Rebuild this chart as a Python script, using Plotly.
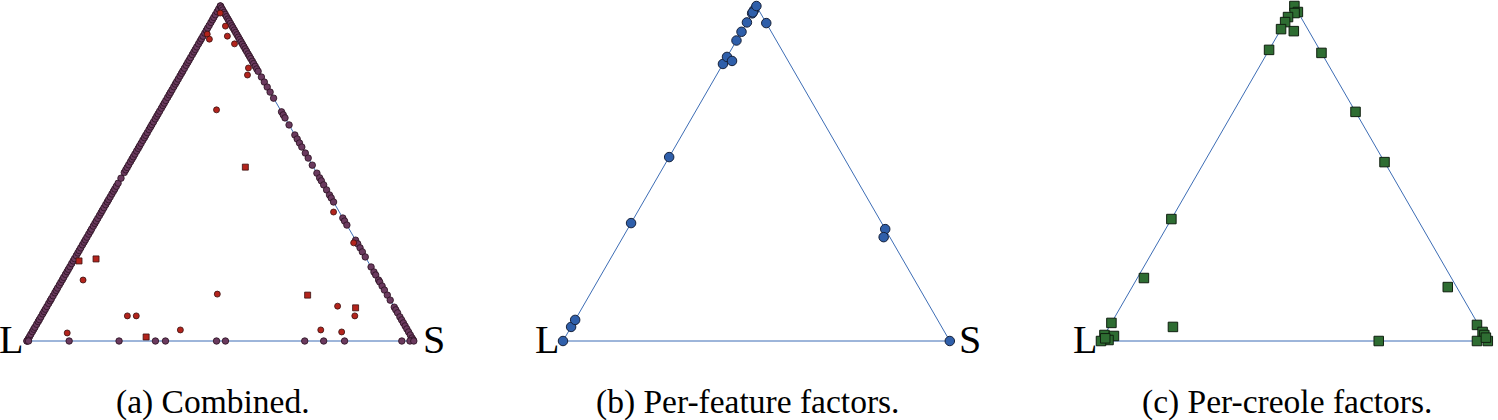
import plotly.graph_objects as go

# (a) Combined: points lying on the triangle edges, given as one share along the edge
combined_left_edge_top = [
    0.0, 0.006, 0.013, 0.02, 0.028, 0.035, 0.041, 0.05, 0.058, 0.064, 0.072, 0.081, 0.088,
    0.095, 0.103, 0.112, 0.12, 0.126, 0.135, 0.144, 0.151, 0.158, 0.167, 0.175, 0.183, 0.19,
    0.199, 0.207, 0.214, 0.222, 0.231, 0.239, 0.246, 0.255, 0.263, 0.27, 0.278, 0.287, 0.295,
    0.302, 0.31, 0.319, 0.327, 0.334, 0.343, 0.351, 0.358, 0.366, 0.375, 0.383, 0.39, 0.398,
    0.407, 0.415, 0.422, 0.43, 0.439, 0.447, 0.454, 0.462, 0.471, 0.486, 0.503,
    0.511, 0.518, 0.526, 0.535, 0.543, 0.55, 0.558, 0.567, 0.575, 0.582, 0.59, 0.599, 0.607,
    0.614, 0.622, 0.631, 0.639, 0.646, 0.654, 0.663, 0.671, 0.678, 0.686, 0.695, 0.703, 0.71,
    0.718, 0.727, 0.735, 0.742, 0.75, 0.759, 0.767, 0.774, 0.782, 0.791, 0.799, 0.806, 0.814,
    0.823, 0.831, 0.838, 0.846, 0.855, 0.863, 0.87, 0.878, 0.887, 0.895, 0.902, 0.91, 0.919,
    0.927, 0.934, 0.942, 0.951, 0.959, 0.966, 0.974, 0.983, 0.991, 1.0,
]
combined_right_edge_top = [
    1.0, 0.994, 0.988, 0.981, 0.975, 0.968, 0.961, 0.955, 0.948, 0.941, 0.935, 0.928, 0.921,
    0.914, 0.907, 0.9, 0.893, 0.886, 0.879, 0.872, 0.865, 0.857, 0.85, 0.843, 0.835, 0.828,
    0.82, 0.812, 0.805, 0.788, 0.773, 0.758, 0.743, 0.725, 0.684, 0.675, 0.666, 0.645, 0.615,
    0.603, 0.591, 0.579, 0.561, 0.546, 0.525, 0.501, 0.487, 0.478, 0.466, 0.451, 0.436, 0.427,
    0.415, 0.367, 0.358, 0.346, 0.301, 0.29, 0.278, 0.266, 0.251, 0.221, 0.206, 0.197, 0.182,
    0.176, 0.164, 0.152, 0.137, 0.122, 0.101, 0.093, 0.084, 0.072, 0.063, 0.054, 0.045, 0.036,
    0.027, 0.018, 0.009, 0.003,
]
combined_bottom_edge_s = [
    0.0, 0.004, 0.109, 0.238, 0.332, 0.358, 0.49, 0.513, 0.718, 0.767, 0.821, 0.969, 0.99, 1.0,
]

# (a) Combined: points off the edges (shares of top, L, S)
combined_dots_top = [0.979, 0.94, 0.916, 0.901, 0.91, 0.887, 0.815, 0.794, 0.69, 0.385, 0.293,
                     0.182, 0.14, 0.104, 0.075, 0.075, 0.075, 0.024, 0.033, 0.033, 0.027]
combined_dots_l = [0.011, 0.017, 0.076, 0.078, 0.027, 0.02, 0.02, 0.033, 0.165, 0.015, 0.009,
                   0.764, 0.438, 0.145, 0.115, 0.703, 0.68, 0.884, 0.587, 0.224, 0.173]
combined_dots_s = [0.01, 0.043, 0.008, 0.021, 0.063, 0.093, 0.165, 0.173, 0.145, 0.6, 0.698,
                   0.054, 0.422, 0.751, 0.81, 0.222, 0.245, 0.092, 0.38, 0.743, 0.8]
combined_squares_top = [0.519, 0.239, 0.245, 0.137, 0.099, 0.012]
combined_squares_l = [0.176, 0.746, 0.699, 0.206, 0.101, 0.686]
combined_squares_s = [0.305, 0.015, 0.056, 0.657, 0.8, 0.302]

# (b) Per-feature factors
feature_top = [0.0, 0.0, 0.042, 0.063, 0.352, 0.549, 0.827, 0.848, 0.836, 0.897, 0.923,
               0.951, 0.978, 0.988, 0.981, 1.0, 0.949, 0.334, 0.31]
feature_l = [1.0, 0.0, 0.958, 0.937, 0.648, 0.451, 0.173, 0.152, 0.145, 0.103, 0.077,
             0.049, 0.022, 0.012, 0.019, 0.0, 0.0, 0.0, 0.016]
feature_s = [0.0, 1.0, 0.0, 0.0, 0.0, 0.0, 0.0, 0.0, 0.019, 0.0, 0.0,
             0.0, 0.0, 0.0, 0.0, 0.0, 0.051, 0.666, 0.674]

# (c) Per-creole factors
creole_top = [1.0, 0.982, 0.979, 0.967, 0.952, 0.931, 0.925, 0.869, 0.86, 0.684, 0.534, 0.364,
              0.188, 0.042, 0.161, 0.0, 0.054, 0.018, 0.015, 0.003, 0.0, 0.008,
              0.048, 0.027, 0.018, 0.0, 0.0, 0.01]
creole_l = [0.0, 0.0, 0.01, 0.033, 0.048, 0.069, 0.039, 0.131, 0.0, 0.0, 0.0, 0.636,
            0.795, 0.793, 0.023, 0.282, 0.946, 0.982, 0.959, 0.979, 1.0, 0.985,
            0.004, 0.0, 0.0, 0.028, 0.0, 0.0]
creole_s = [0.0, 0.018, 0.011, 0.0, 0.0, 0.0, 0.036, 0.0, 0.14, 0.316, 0.466, 0.0,
            0.017, 0.165, 0.816, 0.718, 0.0, 0.0, 0.026, 0.018, 0.0, 0.007,
            0.948, 0.973, 0.982, 0.972, 1.0, 0.99]

captions = ["(a) Combined.", "(b) Per-feature factors.", "(c) Per-creole factors."]

FIG_W, FIG_H = 1498, 420
TRI_H = 335  # px height of each triangle
TRI_TOP = 6  # px from top
centers_px = [220.4, 756.4, 1294.4]
caption_px = [212.5, 747, 1287]
EDGE_BLUE = "#3d6db5"
SERIF = "Liberation Serif, Times New Roman, serif"

fig = go.Figure()

# edge points of panel (a): top share along L-top, top-S and L-S sides
edge_a = combined_left_edge_top + combined_right_edge_top + [0.0] * len(combined_bottom_edge_s)
edge_b = [1 - v for v in combined_left_edge_top] + [0.0] * len(combined_right_edge_top) + [
    1 - v for v in combined_bottom_edge_s
]
edge_c = [0.0] * len(combined_left_edge_top) + [1 - v for v in combined_right_edge_top] + combined_bottom_edge_s

fig.add_trace(
    go.Scatterternary(
        a=edge_a, b=edge_b, c=edge_c, mode="markers", subplot="ternary", cliponaxis=False,
        marker=dict(symbol="circle", size=6.5, color="#6a3a5e", line=dict(color="#2a1020", width=0.8)),
    )
)
fig.add_trace(
    go.Scatterternary(
        a=combined_dots_top, b=combined_dots_l, c=combined_dots_s, mode="markers",
        subplot="ternary", cliponaxis=False,
        marker=dict(symbol="circle", size=6, color="#b3241c", line=dict(color="#3a1010", width=0.8)),
    )
)
fig.add_trace(
    go.Scatterternary(
        a=combined_squares_top, b=combined_squares_l, c=combined_squares_s, mode="markers",
        subplot="ternary", cliponaxis=False,
        marker=dict(symbol="square", size=6, color="#b3241c", line=dict(color="#3a1010", width=0.8)),
    )
)
fig.add_trace(
    go.Scatterternary(
        a=feature_top, b=feature_l, c=feature_s, mode="markers", subplot="ternary2", cliponaxis=False,
        marker=dict(symbol="circle", size=9.5, color="#2f5faa", line=dict(color="#16213a", width=1)),
    )
)
fig.add_trace(
    go.Scatterternary(
        a=creole_top, b=creole_l, c=creole_s, mode="markers", subplot="ternary3", cliponaxis=False,
        marker=dict(symbol="square", size=9.5, color="#2e6d32", line=dict(color="#0f1f0f", width=1)),
    )
)

axis_style = dict(
    showgrid=False, showticklabels=False, ticks="", showline=True,
    linecolor=EDGE_BLUE, linewidth=1, layer="below traces", title=dict(text=""),
)
yc = 1 - (TRI_TOP + TRI_H / 2) / FIG_H
yh = TRI_H / 2 / FIG_H
layout_ternaries = {}
for i, cx in enumerate(centers_px):
    key = "ternary" if i == 0 else f"ternary{i + 1}"
    xc = cx / FIG_W
    layout_ternaries[key] = dict(
        domain=dict(x=[xc - 0.13, xc + 0.13], y=[yc - yh, yc + yh]),
        bgcolor="white", sum=1,
        aaxis=axis_style, baxis=axis_style, caxis=axis_style,
    )

annotations = []
vertex_y = 1 - 339 / FIG_H
for i, cx in enumerate(centers_px):
    half = TRI_H / 3 ** 0.5
    annotations.append(dict(text="L", x=(cx - half - 16) / FIG_W, y=vertex_y))
    if i < 2:
        annotations.append(dict(text="S", x=(cx + half + 20) / FIG_W, y=vertex_y))
annotations = [
    dict(a, xref="paper", yref="paper", xanchor="center", yanchor="middle", showarrow=False,
         font=dict(family=SERIF, size=40, color="black"))
    for a in annotations
]
for text, cx in zip(captions, caption_px):
    annotations.append(
        dict(text=text, x=cx / FIG_W, y=18 / FIG_H, xref="paper", yref="paper",
             xanchor="center", yanchor="middle", showarrow=False,
             font=dict(family=SERIF, size=33.5, color="black"))
    )

fig.update_layout(
    width=FIG_W,
    height=FIG_H,
    margin=dict(l=0, r=0, t=0, b=0),
    paper_bgcolor="white",
    plot_bgcolor="white",
    showlegend=False,
    annotations=annotations,
    **layout_ternaries,
)

# the page body has a default 8px margin; drop it so the figure fills the window
fig.write_html(
    "out.html",
    config={"displayModeBar": False},
    post_script="document.body.style.margin = '0';",
)
